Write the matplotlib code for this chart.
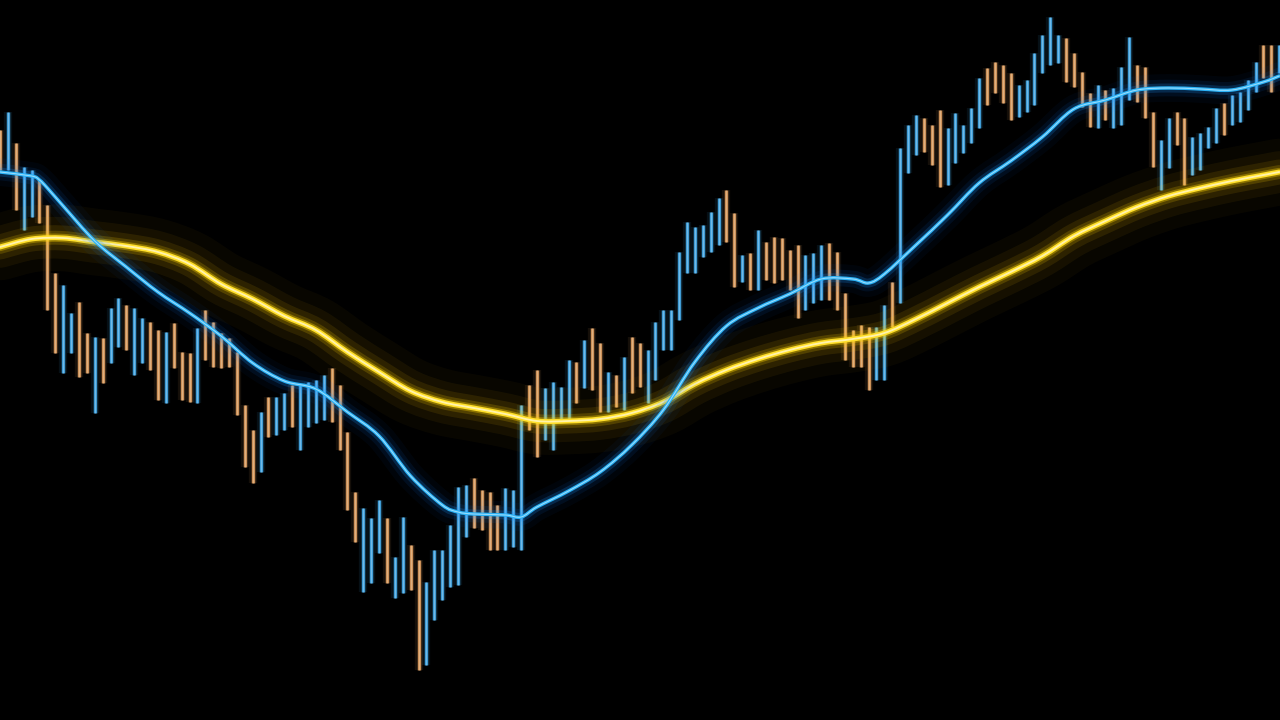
import numpy as np
import matplotlib.pyplot as plt
from matplotlib.path import Path
from matplotlib.patches import PathPatch

# bar highs / lows (price points), one entry per bar
highs = [590, 608, 577, 553, 550, 540, 515, 447, 435, 407, 418, 387, 383, 382, 412, 422, 415, 412, 402, 398, 390, 388,
         397, 368, 367, 392, 410, 398, 387, 382, 368, 315, 290, 308, 323, 323, 327, 335, 335, 338, 340, 345,
         352, 335, 288, 228, 212, 202, 220, 202, 163, 203, 175, 160, 138, 170, 170, 195, 233, 235, 242,
         230, 228, 215, 232, 230, 315, 335, 350, 332, 338, 333, 360, 358, 380, 392, 377, 348, 345, 363, 383, 377,
         370, 398, 410, 410, 468, 498, 493, 495, 508, 522, 530, 507, 465, 467, 490, 478, 483, 482, 470, 475, 465,
         467, 475, 477, 468, 427, 390, 395, 393, 393, 415, 438, 572, 595, 605, 602, 595, 610, 592, 607, 595,
         612, 642, 652, 658, 655, 647, 635, 640, 667, 685, 703, 685, 682, 667, 648, 627, 635, 630, 632, 653,
         683, 655, 653, 608, 580, 602, 608, 602, 583, 587, 593, 612, 617, 625, 628, 640, 658, 675, 675, 675]
lows = [550, 550, 510, 490, 503, 497, 410, 367, 347, 367, 343, 347, 307, 337, 357, 373, 370, 345, 357, 350, 320, 317,
        352, 320, 318, 317, 360, 353, 352, 353, 305, 253, 237, 248, 283, 285, 290, 293, 270, 293, 297, 300,
        298, 270, 210, 178, 128, 137, 167, 137, 122, 127, 130, 50, 55, 100, 120, 133, 135, 183, 192,
        190, 170, 170, 170, 173, 170, 290, 263, 280, 270, 300, 300, 317, 332, 330, 308, 308, 313, 310, 327, 333,
        317, 340, 370, 370, 400, 447, 447, 463, 468, 475, 478, 433, 438, 430, 430, 440, 437, 440, 430, 402, 410,
        417, 420, 420, 410, 360, 353, 353, 330, 340, 340, 393, 417, 547, 565, 568, 555, 533, 535, 557, 567,
        577, 592, 615, 627, 617, 600, 603, 608, 615, 647, 655, 657, 638, 633, 613, 593, 592, 600, 592, 595,
        620, 618, 602, 553, 530, 552, 575, 535, 545, 550, 572, 577, 585, 595, 598, 610, 628, 642, 628, 647]
# 1 = up bar (blue), 0 = down bar (orange)
up = [0, 1, 0, 1, 1, 0, 0, 0, 1, 1, 0, 0, 1, 0, 1, 1, 0, 1, 1, 0, 0, 1,
      0, 0, 0, 1, 0, 0, 0, 0, 0, 0, 0, 1, 0, 1, 1, 0, 1, 1, 1, 1,
      0, 0, 0, 0, 1, 1, 1, 0, 1, 1, 0, 0, 1, 1, 1, 1, 1, 1, 0,
      0, 0, 0, 1, 1, 1, 0, 0, 1, 1, 1, 1, 0, 1, 0, 0, 1, 0, 1, 0, 0,
      1, 1, 1, 1, 1, 1, 1, 1, 1, 1, 0, 0, 1, 0, 1, 0, 0, 0, 0, 0, 1,
      1, 1, 0, 0, 0, 0, 0, 0, 1, 1, 0, 1, 1, 1, 0, 0, 0, 1, 1, 1,
      1, 1, 0, 0, 0, 0, 1, 1, 1, 1, 1, 1, 0, 0, 0, 0, 1, 0, 1, 1,
      1, 0, 0, 0, 1, 1, 0, 0, 1, 1, 1, 1, 0, 1, 1, 1, 1, 0, 0, 1]

# fast moving average (blue), read at these bars
fast_idx = [0, 4, 5, 6, 8, 12, 16, 20, 24, 28, 32, 36, 40, 44, 48, 52, 56, 58, 60, 64, 66, 68, 72, 76, 80,
            84, 88, 92, 96, 100, 104, 108, 110, 112, 116, 120, 124, 128, 132, 136, 140, 144, 148, 152, 156, 160, 162]
fast_ma = [548, 544, 540, 532, 514, 479, 453, 428, 407, 384, 357, 339, 331, 308, 284, 244, 215, 208, 206, 205, 203,
           213, 229, 248, 275, 310, 358, 394, 412, 426, 441, 441, 437, 446, 475, 505, 537, 559, 583, 611, 620, 630,
           632, 631, 630, 638, 644]

# slow moving average (yellow)
slow_idx = [0, 4, 8, 12, 16, 20, 24, 28, 32, 36, 40, 44, 48, 52, 56, 60, 64, 68, 72, 76, 80, 84, 88, 92, 96,
            100, 104, 108, 112, 116, 120, 124, 128, 132, 136, 140, 144, 148, 152, 156, 160, 162]
slow_ma = [473, 481, 482, 478, 474, 468, 456, 436, 421, 404, 390, 368, 348, 329, 318, 312, 306, 299, 299, 301, 307,
           318, 336, 350, 361, 370, 377, 381, 387, 401, 417, 433, 448, 464, 484, 499, 513, 524, 532, 539, 545, 548]


def smooth_path(xs, ys):
    # catmull-rom through the points, drawn as cubic bezier segments
    pts = np.column_stack([xs, ys]).astype(float)
    verts = [pts[0]]
    codes = [Path.MOVETO]
    n = len(pts)
    for i in range(n - 1):
        p0 = pts[i - 1] if i > 0 else pts[i]
        p1 = pts[i]
        p2 = pts[i + 1]
        p3 = pts[i + 2] if i + 2 < n else pts[i + 1]
        verts += [p1 + (p2 - p0) / 6, p2 - (p3 - p1) / 6, p2]
        codes += [Path.CURVE4] * 3
    return Path(verts, codes)


def glow_line(ax, path, layers, z):
    for color, lw, a in layers:
        ax.add_patch(PathPatch(path, fill=False, edgecolor=color, linewidth=lw, alpha=a,
                               capstyle='round', joinstyle='round', zorder=z))


x = np.arange(len(highs))
up = np.array(up)
colors = np.where(up == 1, '#42a4e0', '#d6985c')
centers = np.where(up == 1, '#b0e0ff', '#f8d8b0')

fig = plt.figure(figsize=(12.8, 7.2), dpi=100, facecolor='black')
ax = fig.add_axes([0, 0, 1, 1])
ax.set_facecolor('black')

# bars with soft glow
ax.vlines(x, lows, highs, colors=colors, linewidth=6, alpha=0.1, zorder=2)
ax.vlines(x, lows, highs, colors=colors, linewidth=2.5, alpha=0.95, zorder=3)
ax.vlines(x, lows, highs, colors=centers, linewidth=0.8, alpha=0.45, zorder=3)

slow_path = smooth_path(slow_idx, slow_ma)
glow_line(ax, slow_path, [('#ffb000', 48, 0.035), ('#ffc000', 30, 0.06), ('#ffc800', 18, 0.1),
                          ('#ffd000', 10, 0.18), ('#ffd400', 6, 0.34)], 4)
glow_line(ax, slow_path, [('#ffdf2a', 3.6, 1.0), ('#fff7c4', 1.3, 0.85)], 5)

fast_path = smooth_path(fast_idx, fast_ma)
glow_line(ax, fast_path, [('#0a70ff', 20, 0.045), ('#1583ff', 12, 0.085), ('#1e96ff', 6.5, 0.2)], 6)
glow_line(ax, fast_path, [('#2ab2f6', 2.5, 1.0), ('#c8eeff', 0.8, 0.7)], 7)

ax.set_xlim(0, 162.1)
ax.set_ylim(0, 720)
ax.axis('off')

fig.savefig('out.png', dpi=100, facecolor='black')
